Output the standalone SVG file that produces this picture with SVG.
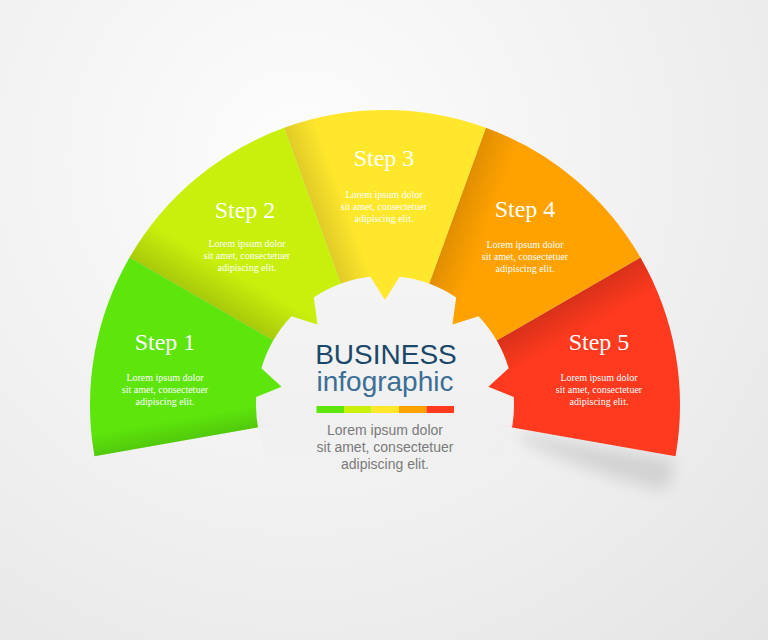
<svg xmlns="http://www.w3.org/2000/svg" width="768" height="640" viewBox="0 0 768 640">
  <defs>
    <radialGradient id="bg" cx="300" cy="160" r="720" gradientUnits="userSpaceOnUse">
      <stop offset="0" stop-color="#fdfdfd"/>
      <stop offset="0.55" stop-color="#efefef"/>
      <stop offset="1" stop-color="#e2e2e2"/>
    </radialGradient>
    <linearGradient id="shadeY" x1="0" y1="0" x2="0" y2="1">
      <stop offset="0" stop-color="#000" stop-opacity="0.2"/>
      <stop offset="1" stop-color="#000" stop-opacity="0"/>
    </linearGradient>
    <linearGradient id="gearFill" x1="0" y1="280" x2="0" y2="480" gradientUnits="userSpaceOnUse">
      <stop offset="0" stop-color="#f4f4f4"/>
      <stop offset="0.72" stop-color="#f0f0f0" stop-opacity="1"/>
      <stop offset="1" stop-color="#eeeeee" stop-opacity="0"/>
    </linearGradient>
    <clipPath id="fanClip">
      <circle cx="0" cy="0" r="295"/>
    </clipPath>
    <filter id="blur8" x="-30%" y="-80%" width="160%" height="260%">
      <feGaussianBlur stdDeviation="8"/>
    </filter>
    <style>
      .step { font-family: "Liberation Serif", "Times New Roman", serif; font-size: 24px; fill: #ffffff; text-anchor: middle; }
      .body { font-family: "Liberation Serif", "Times New Roman", serif; font-size: 10px; fill: #ffffff; text-anchor: middle; }
      .title { font-family: "Liberation Sans", Arial, sans-serif; font-size: 28px; text-anchor: middle; }
      .desc { font-family: "Liberation Sans", Arial, sans-serif; font-size: 14px; fill: #7a7a7a; text-anchor: middle; }
    </style>
  </defs>

  <rect x="0" y="0" width="768" height="640" fill="url(#bg)"/>

  <!-- soft drop shadow under step 5 -->
  <path d="M520,432 L674,460 L668,490 Q600,478 520,440 Z" fill="#000" opacity="0.11" filter="url(#blur8)"/>

  <g id="step5">
    <path d="M385,405 L640.48,257.5 A295,295 0 0 1 675.52,456.23 Z" fill="#ff3a1e"/>
  </g>
  <g id="step4">
    <path d="M385,405 L485.90,127.79 A295,295 0 0 1 640.48,257.5 Z" fill="#ffa200"/>
  </g>
  <g id="step3">
    <path d="M385,405 L284.10,127.79 A295,295 0 0 1 485.90,127.79 Z" fill="#ffe72c"/>
  </g>
  <g id="step2">
    <path d="M385,405 L129.52,257.5 A295,295 0 0 1 284.10,127.79 Z" fill="#c8f00c"/>
  </g>
  <g id="step1">
    <path d="M385,405 L94.48,456.23 A295,295 0 0 1 129.52,257.5 Z" fill="#5de50c"/>
  </g>

  <!-- shading along the overlapping edges -->
  <g id="shading">
    <g transform="translate(385,405) rotate(170)" clip-path="url(#fanClip)">
      <rect x="0" y="0" width="300" height="22" fill="url(#shadeY)" opacity="0.6"/>
    </g>
    <g transform="translate(385,405) rotate(210)" clip-path="url(#fanClip)">
      <rect x="0" y="0" width="300" height="40" fill="url(#shadeY)" opacity="0.8"/>
    </g>
    <g transform="translate(385,405) rotate(250)" clip-path="url(#fanClip)">
      <rect x="0" y="0" width="300" height="32" fill="url(#shadeY)" opacity="0.6"/>
    </g>
    <g transform="translate(385,405) rotate(290)" clip-path="url(#fanClip)">
      <rect x="0" y="0" width="300" height="36" fill="url(#shadeY)" opacity="0.6"/>
    </g>
    <g transform="translate(385,405) rotate(330)" clip-path="url(#fanClip)">
      <rect x="0" y="0" width="300" height="36" fill="url(#shadeY)" opacity="0.75"/>
    </g>
  </g>

  <g id="step-labels">
    <text class="step" x="165" y="350">Step 1</text>
    <text class="body" x="165" y="381">Lorem ipsum dolor</text>
    <text class="body" x="165" y="393">sit amet, consectetuer</text>
    <text class="body" x="165" y="405">adipiscing elit.</text>

    <text class="step" x="245" y="218">Step 2</text>
    <text class="body" x="247" y="247">Lorem ipsum dolor</text>
    <text class="body" x="247" y="259">sit amet, consectetuer</text>
    <text class="body" x="247" y="271">adipiscing elit.</text>

    <text class="step" x="384" y="166">Step 3</text>
    <text class="body" x="384" y="198">Lorem ipsum dolor</text>
    <text class="body" x="384" y="210">sit amet, consectetuer</text>
    <text class="body" x="384" y="222">adipiscing elit.</text>

    <text class="step" x="525" y="217">Step 4</text>
    <text class="body" x="525" y="248">Lorem ipsum dolor</text>
    <text class="body" x="525" y="260">sit amet, consectetuer</text>
    <text class="body" x="525" y="272">adipiscing elit.</text>

    <text class="step" x="599" y="350">Step 5</text>
    <text class="body" x="599" y="381">Lorem ipsum dolor</text>
    <text class="body" x="599" y="393">sit amet, consectetuer</text>
    <text class="body" x="599" y="405">adipiscing elit.</text>
  </g>

  <g id="center">
    <path d="M488.70,481.73 A129,129 0 0 1 442.56,520.45 L420.91,503.67 L415.12,530.44 A129,129 0 0 1 354.88,530.44 L349.09,503.67 L327.44,520.45 A129,129 0 0 1 281.30,481.73 L294.07,457.5 L266.70,456.44 A129,129 0 0 1 256.24,397.12 L281.59,386.77 L261.31,368.36 A129,129 0 0 1 291.43,316.20 L317.51,324.57 L313.80,297.43 A129,129 0 0 1 370.40,276.83 L385,300 L399.60,276.83 A129,129 0 0 1 456.20,297.43 L452.49,324.57 L478.57,316.20 A129,129 0 0 1 508.69,368.36 L488.41,386.77 L513.76,397.12 A129,129 0 0 1 503.30,456.44 L475.93,457.5 Z" fill="url(#gearFill)"/>
    <text class="title" x="386" y="364" fill="#1b4869">BUSINESS</text>
    <text class="title" x="385" y="391" fill="#3c6e96">infographic</text>
    <rect x="316.5" y="406" width="27.5" height="7" fill="#5de50c"/>
    <rect x="344" y="406" width="27.5" height="7" fill="#c8f00c"/>
    <rect x="371.5" y="406" width="27.5" height="7" fill="#ffe72c"/>
    <rect x="399" y="406" width="27.5" height="7" fill="#ffa200"/>
    <rect x="426.5" y="406" width="27.5" height="7" fill="#ff3a1e"/>
    <text class="desc" x="385" y="435">Lorem ipsum dolor</text>
    <text class="desc" x="385" y="452">sit amet, consectetuer</text>
    <text class="desc" x="385" y="469">adipiscing elit.</text>
  </g>

  <g id="connectors"/>
</svg>
